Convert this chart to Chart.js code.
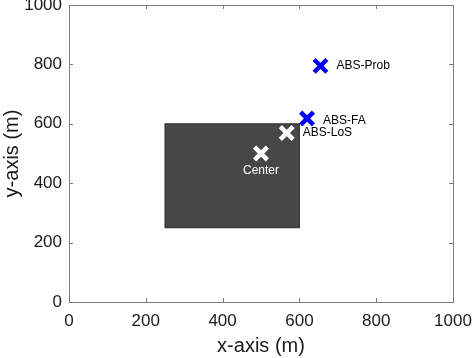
<!DOCTYPE html>
<html>
<head>
<meta charset="utf-8">
<script src="https://cdn.jsdelivr.net/npm/chart.js@4.4.1/dist/chart.umd.min.js"></script>
<style>
  html, body { margin: 0; padding: 0; background: #fff; }
  canvas { display: block; }
</style>
</head>
<body>
<canvas id="siteChart" width="474" height="358"></canvas>
<script>
const siteNames = ["Center", "ABS-LoS", "ABS-FA", "ABS-Prob"];
const siteX = [500, 567, 620, 655];
const siteY = [500, 569, 618, 795];
const siteColors = ["#ffffff", "#ffffff", "#0000ff", "#0000ff"];
const labelColors = ["#ffffff", "#000000", "#000000", "#000000"];

const buildingX = [250, 600];
const buildingY = [250, 600];

const axisTicks = [0, 200, 400, 600, 800, 1000];

const points = siteX.map((x, i) => ({ x: x, y: siteY[i] }));

const axisColor = "#7a7a7a";
const textColor = "#1a1a1a";
const fontFamily = "'Liberation Sans', Arial, sans-serif";

// keep the plot box where the reference has it (no auto padding from labels/points)
const zeroPad = s => { s.paddingTop = 0; s.paddingBottom = 0; s.paddingLeft = 0; s.paddingRight = 0; };

// grey block + MATLAB style box with inward ticks
const scenePlugin = {
  id: "scene",
  beforeDatasetsDraw(chart) {
    const { ctx, scales } = chart;
    const x0 = scales.x.getPixelForValue(buildingX[0]);
    const x1 = scales.x.getPixelForValue(buildingX[1]);
    const y0 = scales.y.getPixelForValue(buildingY[0]);
    const y1 = scales.y.getPixelForValue(buildingY[1]);
    ctx.save();
    ctx.fillStyle = "#474747";
    ctx.fillRect(x0, y1, x1 - x0, y0 - y1);
    ctx.strokeStyle = "#2a2a2a";
    ctx.lineWidth = 1;
    ctx.strokeRect(x0, y1, x1 - x0, y0 - y1);
    ctx.restore();
  },
  afterDatasetsDraw(chart) {
    const { ctx, scales } = chart;
    ctx.save();
    ctx.font = "12px " + fontFamily;
    ctx.textBaseline = "middle";
    siteNames.forEach((name, i) => {
      const px = scales.x.getPixelForValue(siteX[i]);
      const py = scales.y.getPixelForValue(siteY[i]);
      ctx.fillStyle = labelColors[i];
      if (i === 0) {
        ctx.textAlign = "center";
        ctx.fillText(name, px, py + 17);
      } else {
        ctx.textAlign = "left";
        ctx.fillText(name, px + 16, py + (i === 2 ? 2 : 0));
      }
    });
    ctx.restore();
  },
  afterDraw(chart) {
    const { ctx, scales, chartArea: a } = chart;
    ctx.save();
    ctx.strokeStyle = axisColor;
    ctx.lineWidth = 1;
    ctx.strokeRect(Math.round(a.left) + 0.5, Math.round(a.top) + 0.5,
      Math.round(a.right - a.left), Math.round(a.bottom - a.top));
    const len = 4;
    ctx.beginPath();
    axisTicks.forEach(v => {
      const px = Math.round(scales.x.getPixelForValue(v)) + 0.5;
      ctx.moveTo(px, a.bottom); ctx.lineTo(px, a.bottom - len);
      ctx.moveTo(px, a.top); ctx.lineTo(px, a.top + len);
      const py = Math.round(scales.y.getPixelForValue(v)) + 0.5;
      ctx.moveTo(a.left, py); ctx.lineTo(a.left + len, py);
      ctx.moveTo(a.right, py); ctx.lineTo(a.right - len, py);
    });
    ctx.stroke();
    ctx.restore();
  }
};

const ctx = document.getElementById("siteChart").getContext("2d");

const siteChart = new Chart(ctx, {
  type: "scatter",
  data: {
    datasets: [
      {
        data: points,
        pointStyle: "crossRot",
        pointRadius: 9,
        pointHoverRadius: 9,
        pointBorderWidth: 4.5,
        pointBorderColor: siteColors,
        pointBackgroundColor: siteColors
      }
    ]
  },
  options: {
    responsive: false,
    animation: false,
    events: [],
    layout: { autoPadding: false, padding: { top: 5, right: 21, left: 0, bottom: 0 } },
    plugins: { legend: { display: false }, tooltip: { enabled: false } },
    scales: {
      x: {
        type: "linear",
        min: 0,
        max: 1000,
        afterBuildTicks: s => { s.ticks = axisTicks.map(v => ({ value: v })); },
        afterFit: s => { s.height = 56; zeroPad(s); },
        grid: { display: false, drawTicks: false },
        border: { display: false },
        ticks: {
          padding: 9,
          color: textColor,
          maxRotation: 0,
          callback: v => String(v),
          font: { family: fontFamily, size: 17 }
        },
        title: {
          display: true,
          text: "x-axis (m)",
          color: textColor,
          padding: { top: 0, bottom: 0 },
          font: { family: fontFamily, size: 20 }
        }
      },
      y: {
        type: "linear",
        min: 0,
        max: 1000,
        afterBuildTicks: s => { s.ticks = axisTicks.map(v => ({ value: v })); },
        afterFit: s => { s.width = 69; zeroPad(s); },
        grid: { display: false, drawTicks: false },
        border: { display: false },
        ticks: {
          padding: 7,
          color: textColor,
          callback: v => String(v),
          font: { family: fontFamily, size: 17 }
        },
        title: {
          display: true,
          text: "y-axis (m)",
          color: textColor,
          padding: { top: 0, bottom: 0 },
          font: { family: fontFamily, size: 20 }
        }
      }
    }
  },
  plugins: [scenePlugin]
});
</script>
</body>
</html>
